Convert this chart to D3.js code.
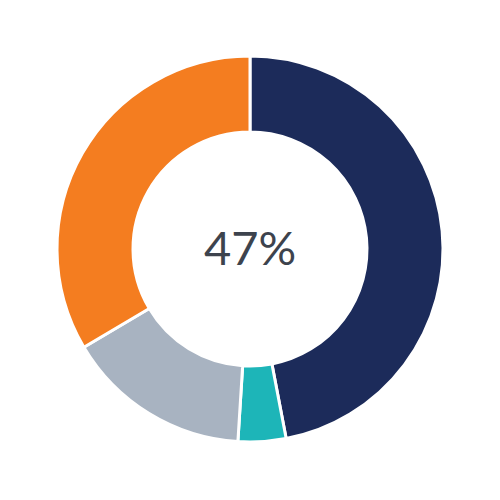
<!DOCTYPE html>
<html>
<head>
<meta charset="utf-8">
<script src="https://cdn.jsdelivr.net/npm/d3@7"></script>
<style>
  body { margin: 0; background: #fff; }
</style>
</head>
<body>
<svg width="500" height="500"></svg>
<script>
var categories = ["A", "B", "C", "D"];
var values = [47, 4, 15.5, 33.5];
var centerLabel = "47%";

var svg = d3.select("svg"),
   width = +svg.attr("width"),
   height = +svg.attr("height"),
   g = svg.append("g").attr("transform", "translate(250,249)");

var color = d3.scaleOrdinal()
   .domain(categories)
   .range(["#1c2b5a", "#1db5b8", "#a8b3c1", "#f47d20"]);

var data = categories.map(function(c, i) { return { cat: c, value: values[i] }; });

var pie = d3.pie()
   .sort(null)
   .value(function(d) { return d.value; });

var path = d3.arc()
   .outerRadius(193)
   .innerRadius(117);

g.selectAll(".arc")
   .data(pie(data))
   .enter().append("path")
     .attr("class", "arc")
     .attr("d", path)
     .attr("fill", function(d) { return color(d.data.cat); })
     .attr("stroke", "#fff")
     .attr("stroke-width", 3);

g.append("text")
   .attr("y", 16)
   .attr("text-anchor", "middle")
   .style("font-family", "Lato, sans-serif")
   .style("font-size", "47px")
   .style("fill", "#3d434d")
   .text(centerLabel);
</script>
</body>
</html>
